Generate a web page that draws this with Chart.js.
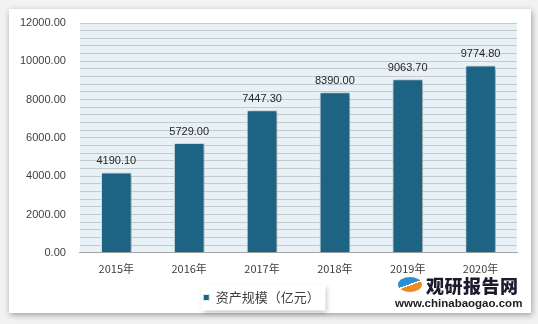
<!DOCTYPE html>
<html>
<head>
<meta charset="utf-8">
<script src="https://cdn.jsdelivr.net/npm/chart.js@4.4.0/dist/chart.umd.min.js"></script>
<style>
  html, body { margin: 0; padding: 0; background: #f2f2f2; }
  #wrap { position: relative; width: 538px; height: 324px; }
  #card { position: absolute; left: 9px; top: 9px; width: 522px; height: 304px;
          background: #fff; box-shadow: 1px 2px 6px rgba(0,0,0,0.35); }
  canvas { position: absolute; left: 0; top: 0; }
  #mark { position: absolute; left: 395px; top: 274px; width: 130px; height: 40px; }
  #mark .cn { position: absolute; left: 31px; top: 0px; font-family: "Noto Sans CJK SC", sans-serif;
              font-size: 18px; font-weight: 900; color: #1b1b2e; line-height: 22px; letter-spacing: 0.5px; }
  #mark .url { position: absolute; left: 0px; top: 22px; font-family: "Liberation Sans", sans-serif;
               font-size: 11.5px; font-weight: bold; color: #1e1e1e; line-height: 14px; }
  #mark .logo { position: absolute; left: 3px; top: 3px; width: 24px; height: 15px; border-radius: 50%;
                background: linear-gradient(160deg, #2a8fd0 0 48%, #ffffff 48% 54%, #f08a1c 54% 100%); }
</style>
</head>
<body>
<div id="wrap">
  <div id="card"></div>
  <canvas id="chart" width="538" height="324"></canvas>
  <div id="mark"><div class="logo"></div><div class="cn">观研报告网</div><div class="url">www.chinabaogao.com</div></div>
</div>
<script>
// chart values
const years = ['2015年', '2016年', '2017年', '2018年', '2019年', '2020年'];
const assets = [4190.10, 5729.00, 7447.30, 8390.00, 9063.70, 9774.80];
const seriesName = '资产规模（亿元）';
const yMax = 12000;

// plot area fill + legend frame
const bgPlugin = {
    id: 'bgPlugin',
    beforeDraw(chart) {
        const ctx = chart.ctx;
        const a = chart.chartArea;
        ctx.save();
        ctx.fillStyle = '#e8f1f5';
        ctx.fillRect(a.left, a.top, a.right - a.left, a.bottom - a.top);
        // legend box
        const lg = chart.legend;
        if (lg && lg.legendHitBoxes.length) {
            const hb = lg.legendHitBoxes[0];
            const w = 124, h = 26;
            const cx = hb.left + hb.width / 2 + 2;
            const cy = hb.top + hb.height / 2;
            ctx.shadowColor = 'rgba(0,0,0,0.25)';
            ctx.shadowBlur = 5;
            ctx.shadowOffsetX = 1;
            ctx.shadowOffsetY = 2;
            ctx.fillStyle = '#ffffff';
            ctx.fillRect(cx - w / 2, cy - h / 2, w, h);
        }
        ctx.restore();
    }
};

// value labels above bars
const labelPlugin = {
    id: 'labelPlugin',
    afterDatasetsDraw(chart) {
        const ctx = chart.ctx;
        const meta = chart.getDatasetMeta(0);
        ctx.save();
        ctx.fillStyle = '#262626';
        ctx.font = '11px "Liberation Sans", sans-serif';
        ctx.textAlign = 'center';
        ctx.textBaseline = 'bottom';
        meta.data.forEach((bar, i) => {
            ctx.fillText(assets[i].toFixed(2), bar.x, bar.y - 6);
        });
        ctx.restore();
    }
};

// soft shadow behind the bars
const shadowPlugin = {
    id: 'shadowPlugin',
    beforeDatasetsDraw(chart) {
        const ctx = chart.ctx;
        ctx.save();
        ctx.shadowColor = 'rgba(0,0,0,0.35)';
        ctx.shadowBlur = 4;
        ctx.shadowOffsetX = 2;
        ctx.shadowOffsetY = 1;
    },
    afterDatasetsDraw(chart) {
        chart.ctx.restore();
    }
};

const ctx = document.getElementById('chart').getContext('2d');
new Chart(ctx, {
    type: 'bar',
    data: {
        labels: years,
        datasets: [{
            label: seriesName,
            data: assets,
            backgroundColor: '#1d6384',
            borderColor: '#d8e8ef',
            borderWidth: 1,
            barPercentage: 0.42,
            categoryPercentage: 1.0
        }]
    },
    options: {
        responsive: false,
        animation: false,
        layout: { padding: { left: 6, right: 21, top: 23, bottom: 10 } },
        plugins: {
            legend: {
                position: 'bottom',
                labels: {
                    boxWidth: 6,
                    boxHeight: 6,
                    color: '#404040',
                    font: { size: 13, family: '"Noto Sans CJK SC", sans-serif' },
                    padding: 15
                }
            },
            tooltip: { enabled: false }
        },
        scales: {
            x: {
                grid: { display: false },
                border: { color: '#a6a6a6' },
                ticks: { color: '#404040', font: { size: 11, family: '"Noto Sans CJK SC", sans-serif' }, padding: 1 }
            },
            y: {
                min: 0,
                max: yMax,
                grid: { color: '#c3cbcf', drawTicks: false },
                border: { display: false },
                ticks: {
                    stepSize: 400,
                    autoSkip: false,
                    color: '#404040',
                    padding: 14,
                    font: { size: 11, family: '"Liberation Sans", sans-serif' },
                    callback: v => (v % 2000 === 0 ? v.toFixed(2) : '')
                }
            }
        }
    },
    plugins: [bgPlugin, shadowPlugin, labelPlugin]
});
</script>
</body>
</html>
